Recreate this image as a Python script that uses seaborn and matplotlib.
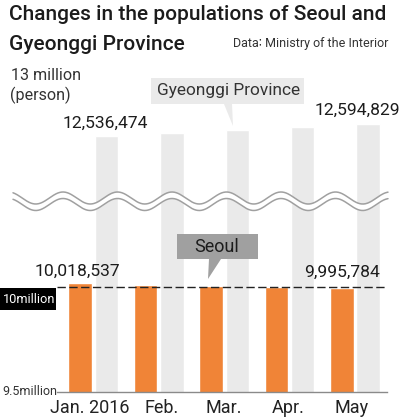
import numpy as np
import pandas as pd
import matplotlib
matplotlib.use('Agg')
import matplotlib.pyplot as plt
from matplotlib.transforms import ScaledTranslation
import seaborn as sns

# Values
months = ['Jan. 2016', 'Feb.', 'Mar.', 'Apr.', 'May']
seoul = [10018537, 10010000, 10003000, 9998000, 9995784]
gyeonggi = [12536474, 12551000, 12565000, 12580000, 12594829]

W, H = 400, 419
ORANGE = '#F08437'
GRAY = '#EAEAEA'

sns.set_theme(style='white')
plt.rcParams['font.family'] = ['Roboto', 'DejaVu Sans']

df = pd.DataFrame({
    'month': months * 2,
    'city': ['Seoul'] * 5 + ['Gyeonggi'] * 5,
    'value': seoul + gyeonggi,
})


def px_axes(fig, x0, y0, x1, y1):
    # pixel box, y measured from the top of the image
    return fig.add_axes([x0 / W, 1 - y1 / H, (x1 - x0) / W, (y1 - y0) / H])


def draw_bars(ax, ylim):
    sns.barplot(data=df, x='month', y='value', hue='city', hue_order=['Seoul', 'Gyeonggi'],
                palette={'Seoul': ORANGE, 'Gyeonggi': GRAY}, width=0.804, gap=0.104,
                saturation=1, legend=False, ax=ax)
    ax.set_xlim(-0.556, 4.49)
    ax.set_ylim(*ylim)
    ax.set_xlabel('')
    ax.set_ylabel('')
    ax.set_yticks([])
    sns.despine(ax=ax, left=True, bottom=True)


fig = plt.figure(figsize=(W / 100, H / 100), dpi=100)

# lower part, 500,000 people = 104.7 px
low = px_axes(fig, 57, 200, 387, 391.7)
px_per = 104.7 / 500000
draw_bars(low, (9500000, 9500000 + 191.7 / px_per))
low.spines['bottom'].set_visible(True)
low.spines['bottom'].set_color('#8a8a8a')
low.spines['bottom'].set_linewidth(1)
low.tick_params(axis='x', length=0, pad=5.5, labelsize=13, labelcolor='#222222')
low.axhline(10000000, color='#222222', lw=1, dashes=(6, 2.5), zorder=5)

# month labels are not quite centred in the original
for lab, dx in zip(low.get_xticklabels(), [-3.5, 2.5, 0, -1, -3]):
    lab.set_transform(lab.get_transform() + ScaledTranslation(dx / 100, 0, fig.dpi_scale_trans))

# upper part, broken scale
up_per = 12 / (12594829 - 12536474)
up = px_axes(fig, 57, 110, 387, 200)
draw_bars(up, (12594829 - 76 / up_per, 12594829 + 14 / up_per))
up.set_xticks([])

# overlay in image pixels for wave and notes
ov = fig.add_axes([0, 0, 1, 1], facecolor='none')
ov.set_xlim(0, W)
ov.set_ylim(H, 0)
ov.axis('off')

x = np.linspace(13, 388, 600)
wave = 6 * np.cos((x - 63) * 2 * np.pi / 54.5)
ov.fill_between(x, 198 - wave, 204.5 - wave, color='white', lw=0, zorder=3)
ov.plot(x, 198 - wave, color='#a0a0a0', lw=1.1, zorder=4)
ov.plot(x, 204.5 - wave, color='#a0a0a0', lw=1.1, zorder=4)

ink = '#1c1c1c'
ov.text(9, 14, 'Changes in the populations of Seoul and', fontsize=15, color=ink, va='center', weight='medium')
ov.text(9, 44, 'Gyeonggi Province', fontsize=15, color=ink, va='center', weight='medium')
ov.text(388, 43, 'Data\u2236 Ministry of the Interior', fontsize=9, color='#333333', va='center', ha='right')
ov.text(11, 75, '13 million', fontsize=11.6, color='#333333', va='center')
ov.text(10, 95, '(person)', fontsize=11.6, color='#333333', va='center')

ov.text(105, 123, '12,536,474', fontsize=12.6, color=ink, va='center', ha='center')
ov.text(357, 110, '12,594,829', fontsize=12.6, color=ink, va='center', ha='center')
ov.text(77.5, 271, '10,018,537', fontsize=12.6, color=ink, va='center', ha='center')
ov.text(342, 272, '9,995,784', fontsize=12.6, color=ink, va='center', ha='center')

# callouts
ov.fill([151, 304, 304, 232, 233, 224, 151], [78, 78, 104, 104, 126, 104, 104], color='#EAEAEA', lw=0, zorder=6)
ov.text(228.5, 91, 'Gyeonggi Province', fontsize=12.4, color='#333333', va='center', ha='center', zorder=7)
ov.fill([177, 258, 258, 221, 208, 209, 177], [234, 234, 259, 259, 279, 259, 259], color='#A0A0A0', lw=0, zorder=6)
ov.text(217, 247, 'Seoul', fontsize=13, color=ink, va='center', ha='center', zorder=7)

# axis tags
ov.fill([0, 56, 56, 0], [288, 288, 310, 310], color='black', lw=0, zorder=6)
ov.text(3, 299, '10million', fontsize=9.2, color='white', va='center', zorder=7)
ov.text(2, 391, '9.5million', fontsize=9, color='#333333', va='center', zorder=7)

fig.savefig('out.png', dpi=100)
